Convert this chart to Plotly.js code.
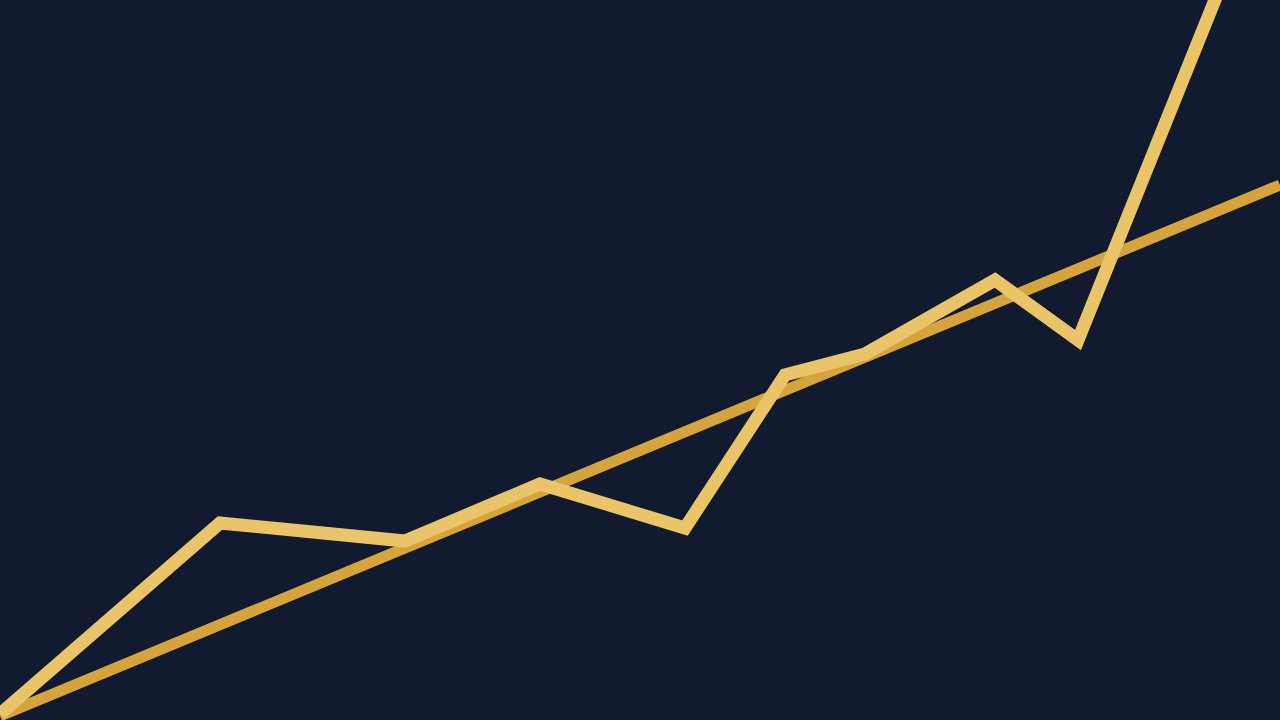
<!DOCTYPE html>
<html><head><meta charset="utf-8">
<script src="https://cdn.plot.ly/plotly-3.0.1.min.js"></script>
<style>html,body{margin:0;padding:0;background:#111a2e;}#c{width:1280px;height:720px;}</style>
</head><body><div id="c"></div>
<script>
const seriesX = [0, 220, 405, 540, 685, 785, 865, 995, 1078, 1225];
const seriesY = [6, 197, 179, 236, 192, 345, 366, 440, 380, 745];
const trendX = [0, 1280];
const trendY = [4, 535];

Plotly.newPlot('c', [
  {x: trendX, y: trendY, mode: 'lines', line: {color: '#d6a43c', width: 11}, hoverinfo: 'skip'},
  {x: seriesX, y: seriesY, mode: 'lines', line: {color: '#eac468', width: 13}, hoverinfo: 'skip'}
], {
  width: 1280, height: 720,
  margin: {l: 0, r: 0, t: 0, b: 0},
  paper_bgcolor: '#111a2e', plot_bgcolor: '#111a2e',
  showlegend: false,
  xaxis: {range: [0, 1280], visible: false, fixedrange: true},
  yaxis: {range: [0, 720], visible: false, fixedrange: true}
}, {displayModeBar: false, staticPlot: true});
</script></body></html>
